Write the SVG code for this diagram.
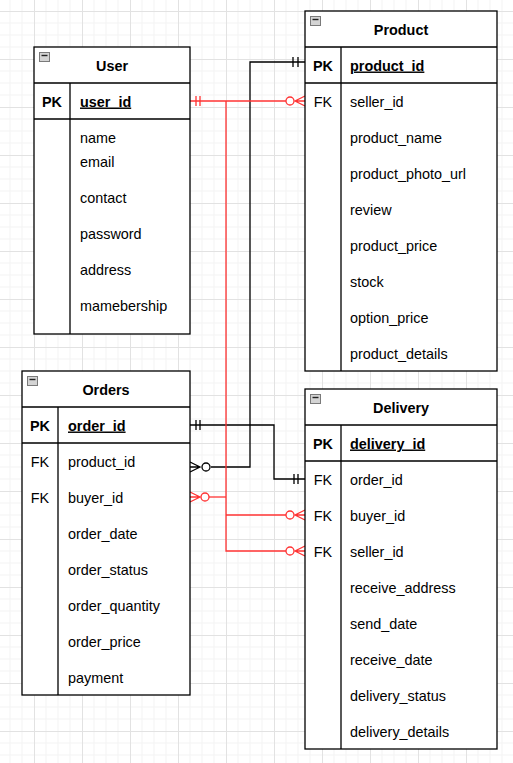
<svg xmlns="http://www.w3.org/2000/svg" width="513" height="763" viewBox="0 0 513 763">
<style>
text{font-family:"Liberation Sans",Arial,Helvetica,sans-serif;font-size:14.4px;fill:#000}
.t{font-weight:bold;text-anchor:middle}
.k{font-weight:bold;text-anchor:middle}
.f{text-anchor:middle}
.pk{font-weight:bold;text-decoration:underline}
.box{fill:#fff;stroke:#000;stroke-width:1.3}
.ln{stroke:#000;stroke-width:1.3;fill:none}
.ic{fill:#d4d4d4;stroke:#7a7a7a;stroke-width:1}
.icm{stroke:#222;stroke-width:1.4}
.r{stroke:#ff3333;stroke-width:1.3;fill:none}
.b{stroke:#000;stroke-width:1.3;fill:none}
.rc{stroke:#ff3333;stroke-width:1.3;fill:#fff}
.bc{stroke:#000;stroke-width:1.3;fill:#fff}
</style>
<defs>
<pattern id="grid" patternUnits="userSpaceOnUse" x="34" y="11" width="48" height="48">
<path d="M12,0V48M24,0V48M36,0V48M0,12H48M0,24H48M0,36H48" stroke="#f3f3f3" stroke-width="1" fill="none"/>
<path d="M0.5,0V48M0,0.5H48" stroke="#e2e2e2" stroke-width="1" fill="none"/>
</pattern>
</defs>
<rect width="513" height="763" fill="#fff"/>
<rect width="513" height="763" fill="url(#grid)"/>

<g id="connectors">
<path class="b" d="M305,62H250V467H211"/>
<path class="b" d="M190,425H274V479H305"/>
<path class="r" d="M190,101H286"/>
<path class="r" d="M226,101V551H286"/>
<path class="r" d="M209,497H226"/>
<path class="r" d="M226,515H286"/>
<!-- User end mandatory one -->
<path class="r" d="M196,96V106M200,96V106"/>
<!-- Product seller_id zero to many -->
<path class="r" d="M305,96L295,101L305,106M295,101H305"/>
<circle class="rc" cx="290" cy="101" r="4"/>
<!-- Delivery buyer_id -->
<path class="r" d="M305,510L295,515L305,520M295,515H305"/>
<circle class="rc" cx="290" cy="515" r="4"/>
<!-- Delivery seller_id -->
<path class="r" d="M305,546L295,551L305,556M295,551H305"/>
<circle class="rc" cx="290" cy="551" r="4"/>
<!-- Orders buyer_id -->
<path class="r" d="M190,492L200,497L190,502M190,497H200"/>
<circle class="rc" cx="205" cy="497" r="4"/>
<!-- Orders product_id -->
<path class="b" d="M190,462L200,467L190,472M190,467H200"/>
<circle class="bc" cx="206" cy="467" r="4"/>
<!-- Product end mandatory one -->
<path class="b" d="M293,57V67M298,57V67"/>
<!-- Orders order_id mandatory one -->
<path class="b" d="M196,420V430M200,420V430"/>
<!-- Delivery order_id mandatory one -->
<path class="b" d="M294,474V484M298,474V484"/>
</g>

<g id="user">
<rect class="box" x="34" y="47" width="156" height="287"/>
<path class="ln" d="M34,83H190M34,119H190M70,83V334"/>
<rect class="ic" x="39.5" y="52.5" width="10" height="9"/>
<path class="icm" d="M41.5,55.5H47.5"/>
<text class="t" x="112" y="70.5">User</text>
<text class="k" x="52" y="106.5">PK</text>
<text class="pk" x="80" y="106.5">user_id</text>
<text x="80" y="142.5">name</text>
<text x="80" y="166.5">email</text>
<text x="80" y="202.5">contact</text>
<text x="80" y="238.5">password</text>
<text x="80" y="274.5">address</text>
<text x="80" y="310.5">mamebership</text>
</g>

<g id="product">
<rect class="box" x="305" y="11" width="192" height="360"/>
<path class="ln" d="M305,47H497M305,83H497M341,47V371"/>
<rect class="ic" x="310.5" y="16.5" width="10" height="9"/>
<path class="icm" d="M312.5,19.5H318.5"/>
<text class="t" x="401" y="34.5">Product</text>
<text class="k" x="323" y="70.5">PK</text>
<text class="pk" x="350" y="70.5">product_id</text>
<text class="f" x="323" y="106.5">FK</text>
<text x="350" y="106.5">seller_id</text>
<text x="350" y="142.5">product_name</text>
<text x="350" y="178.5">product_photo_url</text>
<text x="350" y="214.5">review</text>
<text x="350" y="250.5">product_price</text>
<text x="350" y="286.5">stock</text>
<text x="350" y="322.5">option_price</text>
<text x="350" y="358.5">product_details</text>
</g>

<g id="orders">
<rect class="box" x="22" y="371" width="168" height="324"/>
<path class="ln" d="M22,407H190M22,443H190M58,407V695"/>
<rect class="ic" x="27.5" y="376.5" width="10" height="9"/>
<path class="icm" d="M29.5,379.5H35.5"/>
<text class="t" x="106" y="394.5">Orders</text>
<text class="k" x="40" y="430.5">PK</text>
<text class="pk" x="68" y="430.5">order_id</text>
<text class="f" x="40" y="466.5">FK</text>
<text x="68" y="466.5">product_id</text>
<text class="f" x="40" y="502.5">FK</text>
<text x="68" y="502.5">buyer_id</text>
<text x="68" y="538.5">order_date</text>
<text x="68" y="574.5">order_status</text>
<text x="68" y="610.5">order_quantity</text>
<text x="68" y="646.5">order_price</text>
<text x="68" y="682.5">payment</text>
</g>

<g id="delivery">
<rect class="box" x="305" y="389" width="192" height="360"/>
<path class="ln" d="M305,425H497M305,461H497M341,425V749"/>
<rect class="ic" x="310.5" y="394.5" width="10" height="9"/>
<path class="icm" d="M312.5,397.5H318.5"/>
<text class="t" x="401" y="412.5">Delivery</text>
<text class="k" x="323" y="448.5">PK</text>
<text class="pk" x="350" y="448.5">delivery_id</text>
<text class="f" x="323" y="484.5">FK</text>
<text x="350" y="484.5">order_id</text>
<text class="f" x="323" y="520.5">FK</text>
<text x="350" y="520.5">buyer_id</text>
<text class="f" x="323" y="556.5">FK</text>
<text x="350" y="556.5">seller_id</text>
<text x="350" y="592.5">receive_address</text>
<text x="350" y="628.5">send_date</text>
<text x="350" y="664.5">receive_date</text>
<text x="350" y="700.5">delivery_status</text>
<text x="350" y="736.5">delivery_details</text>
</g>
</svg>
